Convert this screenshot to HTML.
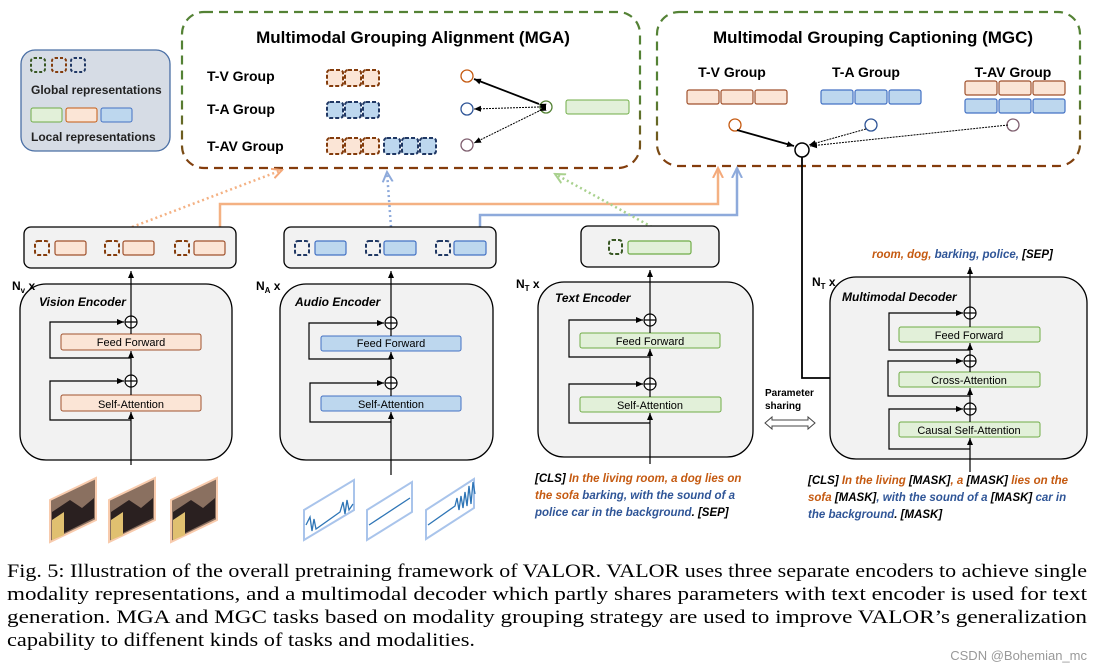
<!DOCTYPE html>
<html><head><meta charset="utf-8"><style>
html,body{margin:0;padding:0;background:#fff;}
svg{display:block;}
.b{font-family:"Liberation Sans",sans-serif;font-weight:bold;}
.s{font-family:"Liberation Sans",sans-serif;}
.bi{font-family:"Liberation Sans",sans-serif;font-weight:bold;font-style:italic;}
</style></head><body>
<svg width="1097" height="671" viewBox="0 0 1097 671" xmlns="http://www.w3.org/2000/svg">
<defs>
<marker id="a" markerWidth="8" markerHeight="8" refX="7" refY="4" orient="auto" markerUnits="userSpaceOnUse"><path d="M0,1 L7,4 L0,7z" fill="#000"/></marker>
<marker id="ao" markerWidth="12" markerHeight="12" refX="10" refY="6" orient="auto" markerUnits="userSpaceOnUse"><path d="M0,1 L10,6 L0,11" fill="none" stroke="#f4a97a" stroke-width="2"/></marker>
<marker id="ab" markerWidth="12" markerHeight="12" refX="10" refY="6" orient="auto" markerUnits="userSpaceOnUse"><path d="M0,1 L10,6 L0,11" fill="none" stroke="#8eaadb" stroke-width="2"/></marker>
<marker id="ag" markerWidth="12" markerHeight="12" refX="10" refY="6" orient="auto" markerUnits="userSpaceOnUse"><path d="M0,1 L10,6 L0,11" fill="none" stroke="#a9d18e" stroke-width="2"/></marker>
<linearGradient id="dg" x1="0" y1="0" x2="0" y2="1"><stop offset="0.55" stop-color="#548235"/><stop offset="1" stop-color="#843c0c"/></linearGradient>
</defs>

<!-- Legend -->
<rect x="21" y="50" width="149" height="101" rx="14" fill="#d6dce5" stroke="#4a6fa5" stroke-width="1.3"/>
<g stroke-width="2" stroke-dasharray="3,2" fill="none">
<rect x="31" y="58" width="14" height="14" rx="3" stroke="#385723"/>
<rect x="52" y="58" width="14" height="14" rx="3" stroke="#843c0c"/>
<rect x="71" y="58" width="14" height="14" rx="3" stroke="#203864"/>
</g>
<text x="31" y="94" class="b" font-size="12" fill="#222">Global representations</text>
<rect x="31" y="108" width="31" height="14" rx="2" fill="#e2f0d9" stroke="#70ad47"/>
<rect x="66" y="108" width="31" height="14" rx="2" fill="#fbe5d6" stroke="#c55a11"/>
<rect x="101" y="108" width="31" height="14" rx="2" fill="#bdd7ee" stroke="#4472c4"/>
<text x="31" y="141" class="b" font-size="12" fill="#222">Local representations</text>

<!-- MGA -->
<rect x="182" y="12" width="458" height="156" rx="22" fill="none" stroke="url(#dg)" stroke-width="2.2" stroke-dasharray="9,6"/>
<text x="413" y="43" text-anchor="middle" class="b" font-size="17">Multimodal Grouping Alignment (MGA)</text>
<text x="207" y="81" class="b" font-size="14">T-V Group</text>
<text x="207" y="114" class="b" font-size="14">T-A Group</text>
<text x="207" y="151" class="b" font-size="14">T-AV Group</text>
<g stroke-width="2" stroke-dasharray="4,2">
<rect x="327" y="70" width="16" height="16" rx="3" fill="#fbe5d6" stroke="#843c0c"/>
<rect x="345" y="70" width="16" height="16" rx="3" fill="#fbe5d6" stroke="#843c0c"/>
<rect x="363" y="70" width="16" height="16" rx="3" fill="#fbe5d6" stroke="#843c0c"/>
<rect x="327" y="102" width="16" height="16" rx="3" fill="#bdd7ee" stroke="#203864"/>
<rect x="345" y="102" width="16" height="16" rx="3" fill="#bdd7ee" stroke="#203864"/>
<rect x="363" y="102" width="16" height="16" rx="3" fill="#bdd7ee" stroke="#203864"/>
<rect x="327" y="138" width="16" height="16" rx="3" fill="#fbe5d6" stroke="#843c0c"/>
<rect x="345" y="138" width="16" height="16" rx="3" fill="#fbe5d6" stroke="#843c0c"/>
<rect x="363" y="138" width="16" height="16" rx="3" fill="#fbe5d6" stroke="#843c0c"/>
<rect x="384" y="138" width="16" height="16" rx="3" fill="#bdd7ee" stroke="#203864"/>
<rect x="402" y="138" width="16" height="16" rx="3" fill="#bdd7ee" stroke="#203864"/>
<rect x="420" y="138" width="16" height="16" rx="3" fill="#bdd7ee" stroke="#203864"/>
</g>
<circle cx="467" cy="76" r="6" fill="#fff" stroke="#c55a11" stroke-width="1.3"/>
<circle cx="467" cy="109" r="6" fill="#fff" stroke="#2f5597" stroke-width="1.3"/>
<circle cx="467" cy="145" r="6" fill="#fff" stroke="#7f5f6f" stroke-width="1.3"/>
<circle cx="546" cy="107" r="6" fill="#fff" stroke="#548235" stroke-width="1.3"/>
<rect x="566" y="100" width="63" height="14" rx="2" fill="#e2f0d9" stroke="#70ad47"/>
<line x1="539" y1="104" x2="474" y2="79" stroke="#000" stroke-width="1.8" marker-end="url(#a)" marker-start="url(#a)"/>
<line x1="539" y1="107" x2="474" y2="109" stroke="#000" stroke-width="1" stroke-dasharray="2,1" marker-end="url(#a)" marker-start="url(#a)"/>
<line x1="539" y1="111" x2="474" y2="143" stroke="#000" stroke-width="1" stroke-dasharray="2,1" marker-end="url(#a)" marker-start="url(#a)"/>

<!-- MGC -->
<rect x="657" y="12" width="423" height="154" rx="22" fill="none" stroke="url(#dg)" stroke-width="2.2" stroke-dasharray="9,6"/>
<text x="873" y="43" text-anchor="middle" class="b" font-size="17">Multimodal Grouping Captioning (MGC)</text>
<text x="732" y="77" text-anchor="middle" class="b" font-size="14">T-V Group</text>
<text x="866" y="77" text-anchor="middle" class="b" font-size="14">T-A Group</text>
<text x="1013" y="77" text-anchor="middle" class="b" font-size="14">T-AV Group</text>
<g stroke-width="1.2">
<rect x="687" y="90" width="32" height="14" rx="2" fill="#fbe5d6" stroke="#a0522d"/>
<rect x="721" y="90" width="32" height="14" rx="2" fill="#fbe5d6" stroke="#a0522d"/>
<rect x="755" y="90" width="32" height="14" rx="2" fill="#fbe5d6" stroke="#a0522d"/>
<rect x="821" y="90" width="32" height="14" rx="2" fill="#bdd7ee" stroke="#4472c4"/>
<rect x="855" y="90" width="32" height="14" rx="2" fill="#bdd7ee" stroke="#4472c4"/>
<rect x="889" y="90" width="32" height="14" rx="2" fill="#bdd7ee" stroke="#4472c4"/>
<rect x="965" y="81" width="32" height="14" rx="2" fill="#fbe5d6" stroke="#a0522d"/>
<rect x="999" y="81" width="32" height="14" rx="2" fill="#fbe5d6" stroke="#a0522d"/>
<rect x="1033" y="81" width="32" height="14" rx="2" fill="#fbe5d6" stroke="#a0522d"/>
<rect x="965" y="99" width="32" height="14" rx="2" fill="#bdd7ee" stroke="#4472c4"/>
<rect x="999" y="99" width="32" height="14" rx="2" fill="#bdd7ee" stroke="#4472c4"/>
<rect x="1033" y="99" width="32" height="14" rx="2" fill="#bdd7ee" stroke="#4472c4"/>
</g>
<circle cx="735" cy="125" r="6" fill="#fff" stroke="#c55a11" stroke-width="1.3"/>
<circle cx="871" cy="125" r="6" fill="#fff" stroke="#2f5597" stroke-width="1.3"/>
<circle cx="1013" cy="125" r="6" fill="#fff" stroke="#7f5f6f" stroke-width="1.3"/>
<line x1="737" y1="130" x2="794" y2="146" stroke="#000" stroke-width="1.8" marker-end="url(#a)"/>
<line x1="866" y1="129" x2="809" y2="145" stroke="#000" stroke-width="1" stroke-dasharray="2,1" marker-end="url(#a)"/>
<line x1="1008" y1="125" x2="810" y2="146" stroke="#000" stroke-width="1" stroke-dasharray="2,1" marker-end="url(#a)"/>
<circle cx="802" cy="150" r="7" fill="#fff" stroke="#000" stroke-width="1.5"/>
<polyline points="802,157 802,378 891,378" fill="none" stroke="#000" stroke-width="1.8" marker-end="url(#a)"/>

<!-- colored connectors -->
<polyline points="220,227 220,204 718,204 718,168" fill="none" stroke="#f4b183" stroke-width="2.5" marker-end="url(#ao)"/>
<polyline points="480,227 480,215 737,215 737,168" fill="none" stroke="#8eaadb" stroke-width="2.5" marker-end="url(#ab)"/>
<line x1="132" y1="227" x2="282" y2="170" stroke="#f4b183" stroke-width="2.5" stroke-dasharray="2,3" marker-end="url(#ao)"/>
<line x1="391" y1="227" x2="387" y2="172" stroke="#8eaadb" stroke-width="2.5" stroke-dasharray="2,3" marker-end="url(#ab)"/>
<line x1="652" y1="227" x2="555" y2="174" stroke="#a9d18e" stroke-width="2.5" stroke-dasharray="2,3" marker-end="url(#ag)"/>

<!-- output boxes -->
<rect x="24" y="227" width="212" height="41" rx="7" fill="#f2f2f2" stroke="#000" stroke-width="1.3"/>
<rect x="284" y="227" width="212" height="41" rx="7" fill="#f2f2f2" stroke="#000" stroke-width="1.3"/>
<rect x="581" y="226" width="138" height="41" rx="7" fill="#f2f2f2" stroke="#000" stroke-width="1.3"/>
<g stroke-width="2" stroke-dasharray="4,2" fill="none">
<rect x="35" y="241" width="14" height="14" rx="3" stroke="#843c0c"/>
<rect x="105" y="241" width="14" height="14" rx="3" stroke="#843c0c"/>
<rect x="175" y="241" width="14" height="14" rx="3" stroke="#843c0c"/>
<rect x="295" y="241" width="14" height="14" rx="3" stroke="#203864"/>
<rect x="366" y="241" width="14" height="14" rx="3" stroke="#203864"/>
<rect x="436" y="241" width="14" height="14" rx="3" stroke="#203864"/>
<rect x="609" y="240" width="13" height="14" rx="3" stroke="#385723"/>
</g>
<g stroke-width="1.2">
<rect x="55" y="241" width="31" height="14" rx="2" fill="#fbe5d6" stroke="#a0522d"/>
<rect x="123" y="241" width="31" height="14" rx="2" fill="#fbe5d6" stroke="#a0522d"/>
<rect x="194" y="241" width="31" height="14" rx="2" fill="#fbe5d6" stroke="#a0522d"/>
<rect x="315" y="241" width="31" height="14" rx="2" fill="#bdd7ee" stroke="#4472c4"/>
<rect x="384" y="241" width="32" height="14" rx="2" fill="#bdd7ee" stroke="#4472c4"/>
<rect x="454" y="241" width="32" height="14" rx="2" fill="#bdd7ee" stroke="#4472c4"/>
<rect x="628" y="241" width="63" height="13" rx="2" fill="#e2f0d9" stroke="#70ad47"/>
</g>

<!-- Encoders -->
<rect x="20" y="284" width="212" height="176" rx="26" fill="#f2f2f2" stroke="#000" stroke-width="1.3"/>
<rect x="280" y="284" width="213" height="176" rx="26" fill="#f2f2f2" stroke="#000" stroke-width="1.3"/>
<rect x="538" y="282" width="215" height="175" rx="26" fill="#f2f2f2" stroke="#000" stroke-width="1.3"/>
<rect x="830" y="277" width="257" height="182" rx="26" fill="#f2f2f2" stroke="#000" stroke-width="1.3"/>
<text x="12" y="290" class="b" font-size="12">N<tspan font-size="8" dy="3">v</tspan><tspan dy="-3"> x</tspan></text>
<text x="256" y="290" class="b" font-size="12">N<tspan font-size="8" dy="3">A</tspan><tspan dy="-3"> x</tspan></text>
<text x="516" y="288" class="b" font-size="12">N<tspan font-size="8" dy="3">T</tspan><tspan dy="-3"> x</tspan></text>
<text x="812" y="286" class="b" font-size="12">N<tspan font-size="8" dy="3">T</tspan><tspan dy="-3"> x</tspan></text>
<text x="39" y="306" class="bi" font-size="12">Vision Encoder</text>
<text x="295" y="306" class="bi" font-size="12">Audio Encoder</text>
<text x="555" y="302" class="bi" font-size="12">Text Encoder</text>
<text x="842" y="301" class="bi" font-size="12">Multimodal Decoder</text>

<g class="s" font-size="11" text-anchor="middle">
<rect x="61" y="334" width="140" height="16" rx="2" fill="#fbe5d6" stroke="#a0522d"/><text x="131" y="346">Feed Forward</text>
<rect x="61" y="395" width="140" height="16" rx="2" fill="#fbe5d6" stroke="#a0522d"/><text x="131" y="408">Self-Attention</text>
<rect x="321" y="336" width="140" height="15" rx="2" fill="#bdd7ee" stroke="#4472c4"/><text x="391" y="347">Feed Forward</text>
<rect x="321" y="396" width="140" height="15" rx="2" fill="#bdd7ee" stroke="#4472c4"/><text x="391" y="408">Self-Attention</text>
<rect x="580" y="333" width="140" height="15" rx="2" fill="#e2f0d9" stroke="#70ad47"/><text x="650" y="345">Feed Forward</text>
<rect x="580" y="397" width="141" height="15" rx="2" fill="#e2f0d9" stroke="#70ad47"/><text x="650" y="409">Self-Attention</text>
<rect x="899" y="327" width="141" height="15" rx="2" fill="#e2f0d9" stroke="#70ad47"/><text x="969" y="339">Feed Forward</text>
<rect x="899" y="372" width="141" height="15" rx="2" fill="#e2f0d9" stroke="#70ad47"/><text x="969" y="384">Cross-Attention</text>
<rect x="899" y="422" width="141" height="15" rx="2" fill="#e2f0d9" stroke="#70ad47"/><text x="969" y="434">Causal Self-Attention</text>
</g>

<g fill="none" stroke="#000" stroke-width="1.2">
<!-- vision -->
<line x1="131" y1="465" x2="131" y2="412" marker-end="url(#a)"/>
<line x1="131" y1="395" x2="131" y2="351" marker-end="url(#a)"/>
<line x1="131" y1="334" x2="131" y2="271" marker-end="url(#a)"/>
<polyline points="131,420 50,420 50,381 124,381" marker-end="url(#a)"/>
<polyline points="131,358 50,358 50,322 124,322" marker-end="url(#a)"/>
<!-- audio -->
<line x1="391" y1="475" x2="391" y2="412" marker-end="url(#a)"/>
<line x1="391" y1="396" x2="391" y2="352" marker-end="url(#a)"/>
<line x1="391" y1="336" x2="391" y2="271" marker-end="url(#a)"/>
<polyline points="391,422 310,422 310,383 384,383" marker-end="url(#a)"/>
<polyline points="391,359 309,359 309,323 384,323" marker-end="url(#a)"/>
<!-- text -->
<line x1="650" y1="464" x2="650" y2="413" marker-end="url(#a)"/>
<line x1="650" y1="397" x2="650" y2="349" marker-end="url(#a)"/>
<line x1="650" y1="333" x2="650" y2="270" marker-end="url(#a)"/>
<polyline points="650,423 569,423 569,384 643,384" marker-end="url(#a)"/>
<polyline points="650,357 569,357 569,320 643,320" marker-end="url(#a)"/>
<!-- decoder -->
<line x1="970" y1="472" x2="970" y2="438" marker-end="url(#a)"/>
<line x1="970" y1="422" x2="970" y2="388" marker-end="url(#a)"/>
<line x1="970" y1="372" x2="970" y2="343" marker-end="url(#a)"/>
<line x1="970" y1="327" x2="970" y2="267" marker-end="url(#a)"/>
<polyline points="970,449 889,449 889,409 963,409" marker-end="url(#a)"/>
<polyline points="970,396 888,396 888,361 963,361" marker-end="url(#a)"/>
<polyline points="970,350 889,350 889,313 963,313" marker-end="url(#a)"/>
</g>
<g fill="#fff" stroke="#000" stroke-width="1.2">
<circle cx="131" cy="322" r="6"/><circle cx="131" cy="381" r="6"/>
<circle cx="391" cy="323" r="6"/><circle cx="391" cy="383" r="6"/>
<circle cx="650" cy="320" r="6"/><circle cx="650" cy="384" r="6"/>
<circle cx="970" cy="313" r="6"/><circle cx="970" cy="361" r="6"/><circle cx="970" cy="409" r="6"/>
</g>
<g stroke="#000" stroke-width="1.2">
<path d="M125,322h12M131,316v12M125,381h12M131,375v12M385,323h12M391,317v12M385,383h12M391,377v12M644,320h12M650,314v12M644,384h12M650,378v12M964,313h12M970,307v12M964,361h12M970,355v12M964,409h12M970,403v12"/>
</g>

<!-- Parameter sharing -->
<text x="765" y="396" class="b" font-size="10">Parameter</text>
<text x="765" y="409" class="b" font-size="10">sharing</text>
<path d="M765,423 l7,-6 v3 h36 v-3 l7,6 l-7,6 v-3 h-36 v3z" fill="#fff" stroke="#444" stroke-width="1"/>

<!-- decoder output text -->
<text x="872" y="258" class="bi" font-size="11.5"><tspan fill="#c55a11">room,  dog, </tspan><tspan fill="#2f5597">barking,  police, </tspan><tspan fill="#000">[SEP]</tspan></text>

<!-- captions -->
<g class="bi" font-size="11.5">
<text x="535" y="482"><tspan fill="#000">[CLS] </tspan><tspan fill="#c55a11">In the living room, a  dog lies on</tspan></text>
<text x="535" y="499"><tspan fill="#c55a11">the sofa </tspan><tspan fill="#2f5597">barking, with the sound of a</tspan></text>
<text x="535" y="516"><tspan fill="#2f5597">police car in the background</tspan><tspan fill="#000">. [SEP]</tspan></text>
<text x="808" y="484"><tspan fill="#000">[CLS] </tspan><tspan fill="#c55a11">In the living </tspan><tspan fill="#000">[MASK]</tspan><tspan fill="#c55a11">, a  </tspan><tspan fill="#000">[MASK] </tspan><tspan fill="#c55a11">lies on the</tspan></text>
<text x="808" y="501"><tspan fill="#c55a11">sofa </tspan><tspan fill="#000">[MASK]</tspan><tspan fill="#2f5597">, with the sound of a </tspan><tspan fill="#000">[MASK] </tspan><tspan fill="#2f5597">car in</tspan></text>
<text x="808" y="518"><tspan fill="#2f5597">the background</tspan><tspan fill="#000">. [MASK]</tspan></text>
</g>

<!-- vision frames -->
<g>
<polygon points="50,500 96,478 96,520 50,542" fill="#8a7060" stroke="#f8cbad" stroke-width="2"/>
<polygon points="52,512 70,500 82,508 94,498 94,518 52,539" fill="#2a2020"/>
<polygon points="52,520 64,512 64,535 52,540" fill="#e0c070"/>
<polygon points="109,500 155,478 155,520 109,542" fill="#8a7060" stroke="#f8cbad" stroke-width="2"/>
<polygon points="111,512 129,500 141,508 153,498 153,518 111,539" fill="#2a2020"/>
<polygon points="111,520 123,512 123,535 111,540" fill="#e0c070"/>
<polygon points="171,500 217,478 217,520 171,542" fill="#8a7060" stroke="#f8cbad" stroke-width="2"/>
<polygon points="173,512 191,500 203,508 215,498 215,518 173,539" fill="#2a2020"/>
<polygon points="173,520 185,512 185,535 173,540" fill="#e0c070"/>
</g>
<!-- audio frames -->
<g fill="#fff" stroke="#a9c4eb" stroke-width="2">
<polygon points="304,510 354,480 354,510 304,540"/>
<polygon points="367,510 412,482 412,512 367,540"/>
<polygon points="426,510 474,479 474,508 426,539"/>
</g>
<g stroke="#2e75b6" stroke-width="1.3" fill="none">
<path d="M306,525 l4,-8 l2,14 l2,-12 l2,10 L340,512 l3,-10 l2,12 l2,-14 l2,10 l4,-6"/>
<path d="M369,525 L410,498"/>
<path d="M428,525 L455,506 l2,-8 l2,12 l2,-14 l2,12 l2,-16 l2,14 l2,-20 l2,18 l2,-22 l2,12"/>
</g>

<!-- figure caption -->
<g font-family="'Liberation Serif',serif" font-size="19" fill="#000">
<text x="7" y="577" textLength="1080" lengthAdjust="spacingAndGlyphs">Fig. 5: Illustration of the overall pretraining framework of VALOR. VALOR uses three separate encoders to achieve single</text>
<text x="7" y="600" textLength="1080" lengthAdjust="spacingAndGlyphs">modality representations, and a multimodal decoder which partly shares parameters with text encoder is used for text</text>
<text x="7" y="623" textLength="1080" lengthAdjust="spacingAndGlyphs">generation. MGA and MGC tasks based on modality grouping strategy are used to improve VALOR’s generalization</text>
<text x="7" y="646" textLength="468" lengthAdjust="spacingAndGlyphs">capability to diffenent kinds of tasks and modalities.</text>
</g>
<text x="1087" y="660" text-anchor="end" class="s" font-size="13" fill="#999">CSDN @Bohemian_mc</text>
</svg>
</body></html>
